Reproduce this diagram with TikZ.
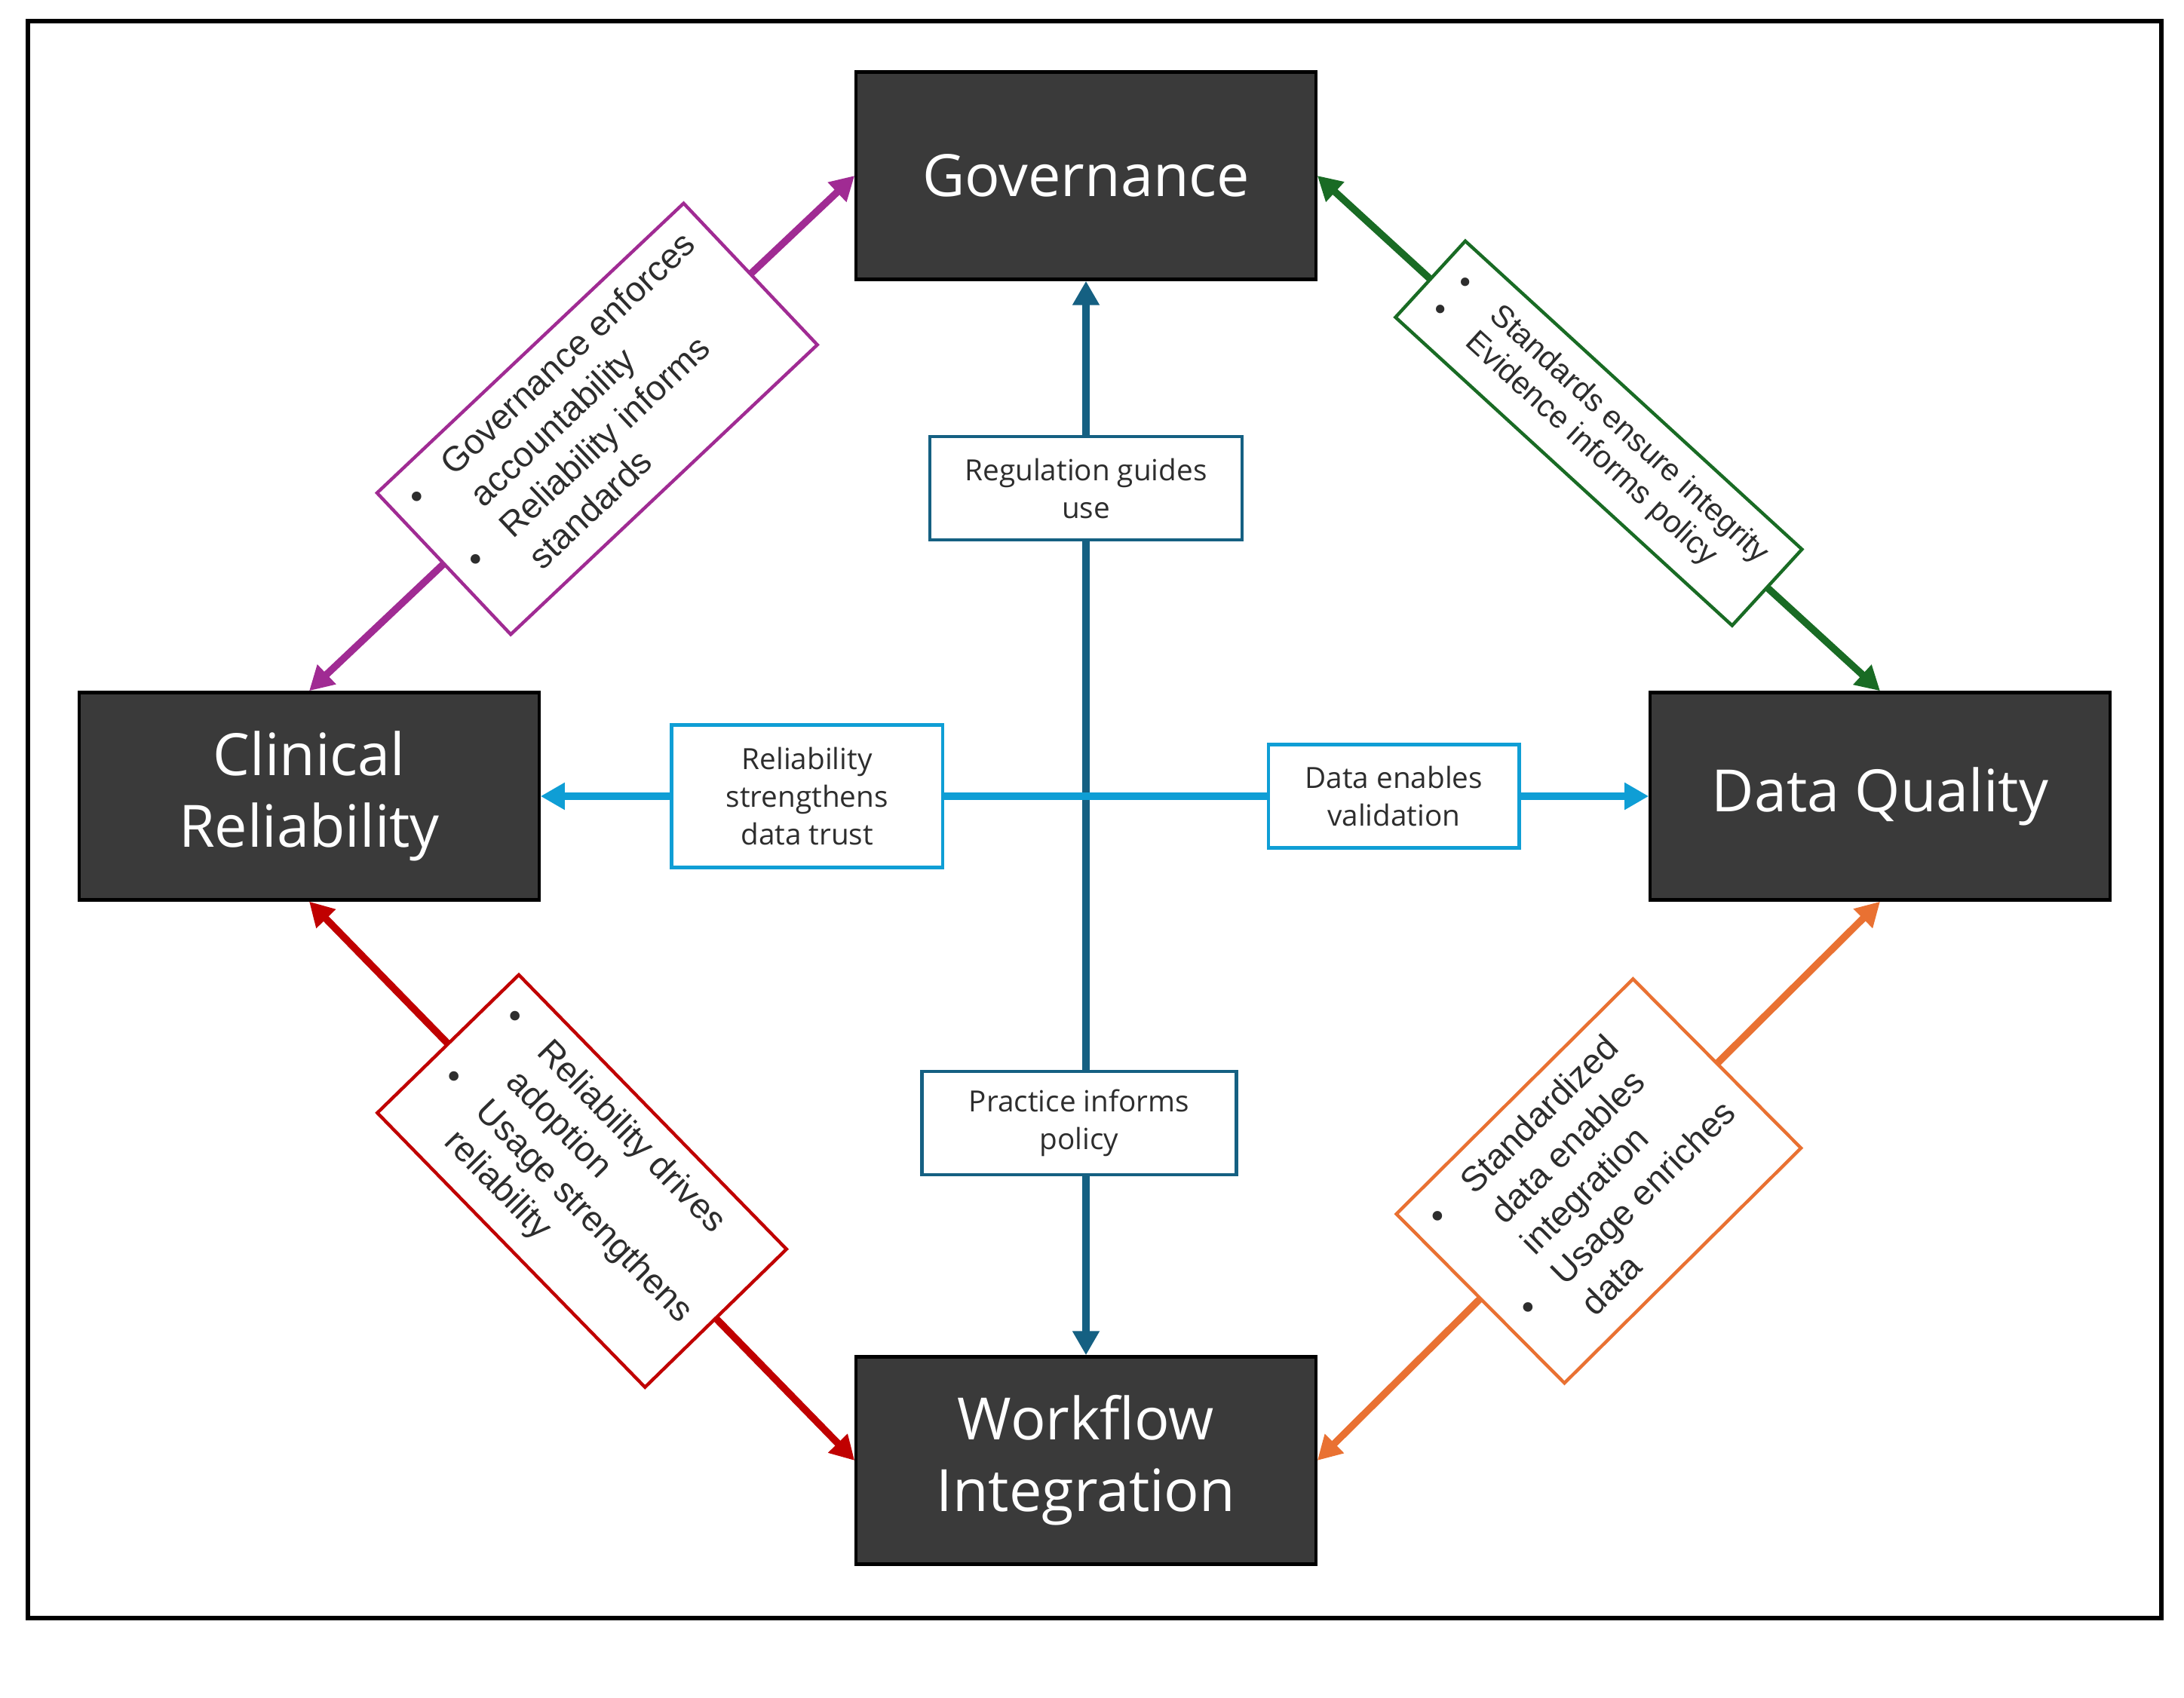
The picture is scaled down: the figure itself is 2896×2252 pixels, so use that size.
\documentclass[tikz,border=0pt]{standalone}
\usepackage{fontspec}
\setmainfont{Open Sans}
\newfontfamily\notefont{Liberation Sans}
\usetikzlibrary{arrows.meta}
\definecolor{pillarfill}{RGB}{58,58,58}
\definecolor{textgray}{RGB}{45,45,45}
\definecolor{govpurple}{RGB}{160,43,147}
\definecolor{stdgreen}{RGB}{25,107,36}
\definecolor{relred}{RGB}{192,0,0}
\definecolor{dataorange}{RGB}{233,113,50}
\definecolor{policyblue}{RGB}{21,96,130}
\definecolor{trustblue}{RGB}{15,158,213}
\newcommand{\notebul}{\makebox[0.62cm][l]{\textbullet}}
\newcommand{\noteind}{\hspace*{0.62cm}}
\tikzset{
  pillar/.style={draw=black, line width=1.2pt, fill=pillarfill, text=white,
    minimum width=6.09cm, minimum height=2.75cm, inner sep=0pt, align=center,
    font=\fontsize{22}{27}\selectfont},
  link/.style={draw=#1, line width=2.7pt,
    {Triangle[length=0.32cm,width=0.34cm]}-{Triangle[length=0.32cm,width=0.34cm]}},
  tag/.style={draw=#1, fill=white, line width=1.3pt, text=textgray,
    inner sep=0pt, align=center, font=\fontsize{11}{14.2}\selectfont},
  note/.style={draw=#1, fill=white, line width=1.25pt, text=textgray,
    inner sep=0pt, sloped, font=\notefont\fontsize{13.2}{16.2}\selectfont}
}
\begin{document}
\begin{tikzpicture}[x=0.01cm, y=-0.01cm]
  \useasboundingbox (0,0) rectangle (2896,2252);
  \draw[line width=1.9pt] (37,28) rectangle (2866,2146);
  \draw
    (1440,233) node[pillar] (gov) {Governance}
    (410,1056) node[pillar] (clin) {Clinical\\Reliability}
    (2493,1056) node[pillar] (dq) {Data Quality}
    (1440,1937) node[pillar] (wf) {Workflow\\Integration};
  \begin{scope}
    \draw[link=govpurple] (clin.north) -- node[note=govpurple, pos=0.528,
        minimum width=5.59cm, minimum height=2.58cm] (govnote)
      {\begin{tabular}{@{}l@{}}\notebul Governance enforces\\ \noteind accountability\\
        \notebul Reliability informs\\ \noteind standards\end{tabular}} (gov.west);
    \draw[link=stdgreen] (gov.east) -- node[note=stdgreen, pos=0.5,
        minimum width=6.05cm, minimum height=1.37cm,
        font=\notefont\fontsize{11.8}{13.7}\selectfont] (stdnote)
      {\begin{tabular}{@{}l@{}}\notebul Standards ensure integrity\\
        \notebul Evidence informs policy\end{tabular}} (dq.north);
    \draw[link=relred] (clin.south) -- node[note=relred, pos=0.5,
        minimum width=5.08cm, minimum height=2.62cm] (relnote)
      {\begin{tabular}{@{}l@{}}\notebul Reliability drives\\ \noteind adoption\\
        \notebul Usage strengthens\\ \noteind reliability\end{tabular}} (wf.west);
    \draw[link=dataorange] (wf.east) -- node[note=dataorange, pos=0.5,
        minimum width=4.42cm, minimum height=3.16cm] (datanote)
      {\begin{tabular}{@{}l@{}}\notebul Standardized\\ \noteind data enables\\
        \noteind integration\\ \notebul Usage enriches\\ \noteind data\end{tabular}} (dq.south);
    \draw[link=policyblue] (gov.south)
      -- node[tag=policyblue, pos=0.193, minimum width=4.14cm, minimum height=1.37cm] (reg)
        {Regulation guides\\use}
      node[tag=policyblue, pos=0.784, xshift=-0.09cm, minimum width=4.17cm, minimum height=1.37cm] (prac)
        {Practice informs\\policy}
      (wf.north);
    \draw[link=trustblue] (clin.east)
      -- node[tag=trustblue, pos=0.2405, minimum width=3.59cm, minimum height=1.89cm] (trust)
        {Reliability\\strengthens\\data trust}
      node[tag=trustblue, pos=0.77, minimum width=3.32cm, minimum height=1.37cm] (valid)
        {Data enables\\validation}
      (dq.west);
  \end{scope}
\end{tikzpicture}
\end{document}
